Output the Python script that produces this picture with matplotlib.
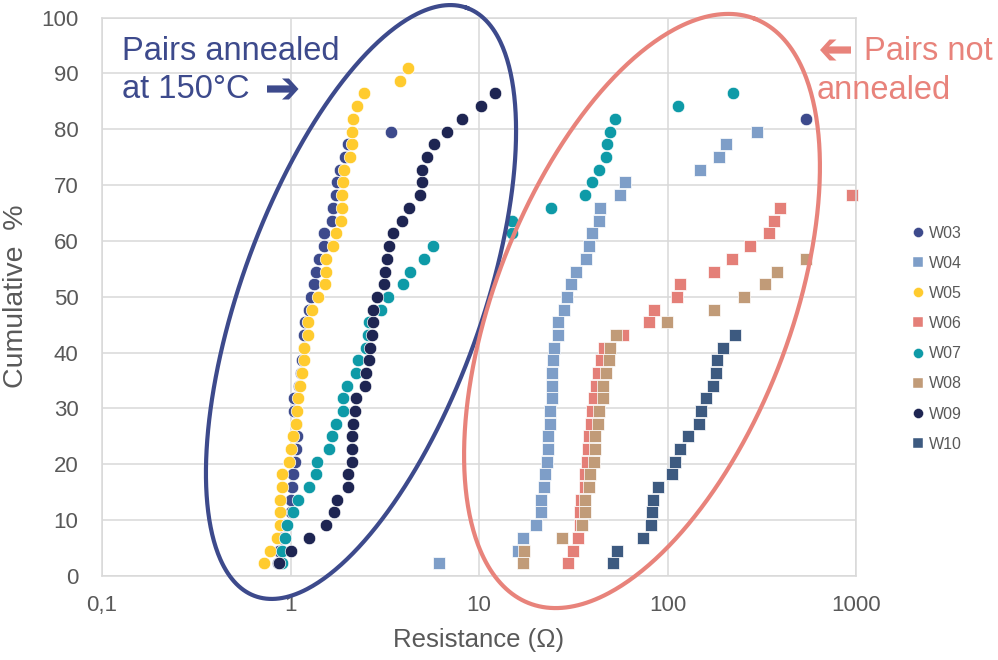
import numpy as np
import matplotlib
matplotlib.use("Agg")
import matplotlib.pyplot as plt
from matplotlib.lines import Line2D
from matplotlib.patches import Polygon
from matplotlib.ticker import NullLocator

# ---------------- data ----------------
# cumulative percentage levels (rank / 44 pairs)
cumulative_pct = [2.3, 4.5, 6.8, 9.1, 11.4, 13.6, 15.9, 18.2, 20.5, 22.7,
                  25.0, 27.3, 29.5, 31.8, 34.1, 36.4, 38.6, 40.9, 43.2, 45.5,
                  47.7, 50.0, 52.3, 54.5, 56.8, 59.1, 61.4, 63.6, 65.9, 68.2,
                  70.5, 72.7, 75.0, 77.3, 79.5, 81.8, 84.1, 86.4, 88.6, 90.9]

series_names = ["W03", "W04", "W05", "W06", "W07", "W08", "W09", "W10"]

r_w03 = [0.86, 0.87, 0.895, 0.93, 1.0, 1.0, 1.015, 1.036, 1.058, 1.071,
         1.079, 1.068, 1.049, 1.049, 1.115, 1.143, 1.157, 1.175, 1.185, 1.20,
         1.26, 1.291, 1.339, 1.373, 1.418, 1.513, 1.508, 1.67, 1.684, 1.752,
         1.767, 1.824, 1.956, 2.009, 3.43, 545]
r_w04 = [6.12, 16.2, 17.1, 20.0, 21.4, 21.4, 22.2, 22.5, 22.9, 23.2,
         23.2, 23.7, 23.9, 24.5, 24.5, 24.5, 24.8, 24.95, 26.2, 26.2,
         28.3, 29.3, 30.9, 32.7, 36.8, 38.3, 40.0, 43.2, 43.8, 56.1,
         59.7, 148.5, 187, 205, 298]
r_w05 = [0.72, 0.775, 0.85, 0.875, 0.885, 0.885, 0.905, 0.905, 0.98, 1.01,
         1.03, 1.065, 1.08, 1.10, 1.12, 1.145, 1.18, 1.183, 1.235, 1.245,
         1.30, 1.395, 1.52, 1.535, 1.55, 1.68, 1.74, 1.86, 1.865, 1.885,
         1.905, 1.93, 2.08, 2.11, 2.125, 2.15, 2.24, 2.465, 3.80, 4.19]
r_w06 = [29.6, 31.7, 33.7, 34.2, 34.4, 34.7, 36.3, 36.3, 37.3, 37.7,
         38.5, 39.2, 39.8, 40.8, 42.0, 42.9, 44.2, 46.1, 58.2, 79.6,
         84.4, 112, 117, 177, 221, 273, 345, 368, 396, 957]
r_w07 = [0.90, 0.90, 0.93, 0.955, 1.036, 1.09, 1.25, 1.37, 1.39, 1.61,
         1.67, 1.75, 1.89, 1.91, 1.99, 2.22, 2.27, 2.50, 2.58, 2.60,
         3.03, 3.28, 3.94, 4.29, 5.08, 5.69, 14.9, 14.9, 24.0, 36.4,
         40.0, 43.2, 47.3, 47.8, 49.7, 52.4, 114, 222]
r_w08 = [17.1, 17.3, 27.6, 35.1, 36.4, 36.7, 38.3, 38.9, 40.6, 41.4,
         41.4, 42.7, 43.2, 45.4, 45.4, 47.3, 49.2, 49.8, 53.4, 99.6,
         176, 255, 330, 379, 545]
r_w09 = [0.866, 1.0, 1.255, 1.55, 1.70, 1.77, 2.01, 2.03, 2.13, 2.13,
         2.13, 2.14, 2.19, 2.23, 2.47, 2.53, 2.61, 2.635, 2.70, 2.73,
         2.74, 2.86, 3.15, 3.16, 3.24, 3.35, 3.50, 3.92, 4.25, 4.88,
         5.0, 5.0, 5.33, 5.79, 6.78, 8.17, 10.25, 12.15]
r_w10 = [51.3, 54.1, 73.9, 81.7, 82.3, 84.1, 89.4, 106, 109, 117,
         128, 147, 150, 161, 174, 180, 182, 198, 228]

resistances = [r_w03, r_w04, r_w05, r_w06, r_w07, r_w08, r_w09, r_w10]
colors = ["#3D4A8C", "#7E9EC8", "#FFCB2E", "#E47F78",
          "#0E9AA7", "#C19B78", "#1E2552", "#3D5A80"]
markers = ["o", "s", "o", "s", "o", "s", "o", "s"]

x_ticks = [0.1, 1, 10, 100, 1000]
x_tick_labels = ["0,1", "1", "10", "100", "1000"]
y_ticks = [0, 10, 20, 30, 40, 50, 60, 70, 80, 90, 100]

# ---------------- figure ----------------
W, H = 998, 660
fig = plt.figure(figsize=(W / 100, H / 100), dpi=100)
FONT = ["Liberation Sans", "DejaVu Sans"]
plt.rcParams["font.family"] = FONT
GRAY = "#595959"

ax = fig.add_axes([102 / W, 1 - 576 / H, 754 / W, (576 - 17.5) / H])
ax.set_xscale("log")
ax.set_xlim(0.1, 1000)
ax.set_ylim(0, 100)
ax.set_xticks(x_ticks)
ax.set_xticklabels(x_tick_labels)
ax.xaxis.set_minor_locator(NullLocator())
ax.set_yticks(y_ticks)
ax.grid(True, color="#D9D9D9", lw=1.1)
ax.set_axisbelow(True)
ax.tick_params(axis="both", length=0, labelsize=16, colors=GRAY)
ax.tick_params(axis="y", pad=17)
ax.tick_params(axis="x", pad=14)
for s in ax.spines.values():
    s.set_color("#D9D9D9")
    s.set_linewidth(1.1)

ax.set_xlabel("Resistance (Ω)", fontsize=18.5, color=GRAY, labelpad=8)
ax.set_ylabel("Cumulative  %", fontsize=20.5, color=GRAY, labelpad=9)

handles = []
for name, r, c, m in zip(series_names, resistances, colors, markers):
    y = cumulative_pct[:len(r)]
    ms = 9.0 if m == "o" else 8.3
    ax.plot(r, y, linestyle="none", marker=m, ms=ms, color=c,
            markeredgecolor="white", markeredgewidth=0.5,
            label=name, clip_on=False)
    handles.append(Line2D([], [], linestyle="none", marker=m,
                          ms=7.2 if m == "o" else 6.6, color=c,
                          markeredgecolor="white", markeredgewidth=0.3))

leg = ax.legend(handles, series_names, loc="upper left",
                bbox_to_anchor=(910.5 / W, 1 - 225.5 / H),
                bbox_transform=fig.transFigure, frameon=False,
                fontsize=11.5, labelcolor=GRAY, handlelength=1.0,
                handletextpad=0.15, labelspacing=0.95, borderpad=0,
                borderaxespad=0)


# ---------------- annotations (pixel geometry) ----------------
def ellipse_line(cx, cy, a, b, theta_deg, color):
    t = np.linspace(0, 2 * np.pi, 500)
    th = np.radians(theta_deg)
    X = cx + a * np.cos(t) * np.cos(th) - b * np.sin(t) * np.sin(th)
    Yup = (H - cy) + a * np.cos(t) * np.sin(th) + b * np.sin(t) * np.cos(th)
    fig.add_artist(Line2D(X / W, Yup / H, transform=fig.transFigure,
                          color=color, lw=3.0, solid_joinstyle="round"))


def arrow(x0, xt, yc, color):
    d = 1 if xt > x0 else -1
    pts = [(x0, yc - 3.6), (xt - d * 9, yc - 3.6), (xt - d * 16.5, yc - 10.5),
           (xt - d * 9.5, yc - 10.5), (xt, yc), (xt - d * 9.5, yc + 10.5),
           (xt - d * 16.5, yc + 10.5), (xt - d * 9, yc + 3.6), (x0, yc + 3.6)]
    pts = [(px / W, 1 - py / H) for px, py in pts]
    fig.add_artist(Polygon(pts, closed=True, transform=fig.transFigure,
                           facecolor=color, edgecolor="none"))


BLUE = "#3D4A8C"
RED = "#E8837B"
ellipse_line(361, 302, 312.6, 120.4, 70.2, BLUE)
ellipse_line(642, 311, 313.3, 147.5, 68.9, RED)

fig.text(122 / W, 1 - 60 / H, "Pairs annealed", fontsize=23.5, color=BLUE,
         va="baseline", ha="left")
fig.text(122 / W, 1 - 98 / H, "at 150°C", fontsize=23.5, color=BLUE,
         va="baseline", ha="left")
arrow(267, 298.5, 89, BLUE)

fig.text(864 / W, 1 - 60 / H, "Pairs not", fontsize=23.5, color=RED,
         va="baseline", ha="left")
fig.text(817 / W, 1 - 99 / H, "annealed", fontsize=23.5, color=RED,
         va="baseline", ha="left")
arrow(851, 820, 50, RED)

fig.savefig("out.png", dpi=100)
